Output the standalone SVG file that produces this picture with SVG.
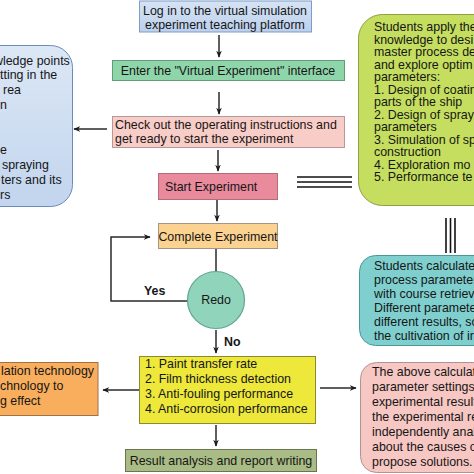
<svg xmlns="http://www.w3.org/2000/svg" width="474" height="474" viewBox="0 0 474 474">
<defs>
<linearGradient id="gBlue" x1="0" y1="0" x2="0" y2="1"><stop offset="0" stop-color="#d6e3f4"/><stop offset="1" stop-color="#bcd0ec"/></linearGradient>
<linearGradient id="gBlue2" x1="0" y1="0" x2="0" y2="1"><stop offset="0" stop-color="#dce7f5"/><stop offset="1" stop-color="#c2d5ee"/></linearGradient>
<marker id="ah" viewBox="0 0 10 10" refX="9" refY="5" markerWidth="7" markerHeight="7" orient="auto" markerUnits="userSpaceOnUse">
<path d="M0,1 L10,5 L0,9 L3,5 z" fill="#1a1a1a"/>
</marker>
<style>
text{font-family:"Liberation Sans",Arial,sans-serif;font-size:12.4px;fill:#161616}
.b{font-weight:bold}
.ln{stroke:#2a2a2a;stroke-width:1.5;fill:none}
.ar{stroke:#2a2a2a;stroke-width:1.5;fill:none;marker-end:url(#ah)}
.tl{stroke:#111;stroke-width:1.6}
</style>
</defs>
<rect width="474" height="474" fill="#ffffff"/>

<g id="connectors">
<line class="ar" x1="219" y1="35" x2="219" y2="57"/>
<line class="ar" x1="219" y1="92" x2="219" y2="114"/>
<line class="ar" x1="218" y1="150" x2="218" y2="171"/>
<line class="ar" x1="217" y1="200" x2="217" y2="221"/>
<line class="ln" x1="216" y1="249" x2="216" y2="272"/>
<polyline class="ar" points="188,301 111,301 111,237 150,237"/>
<line class="ar" x1="216" y1="330" x2="216" y2="353"/>
<line class="ar" x1="216" y1="425" x2="216" y2="446"/>
<line class="ar" x1="139" y1="390" x2="103" y2="390"/>
<line class="ar" x1="320" y1="388" x2="356" y2="388"/>
<line class="ar" x1="107" y1="129" x2="74" y2="129"/>
<line class="tl" x1="297" y1="177" x2="352" y2="177"/>
<line class="tl" x1="297" y1="182" x2="352" y2="182"/>
<line class="tl" x1="297" y1="187" x2="352" y2="187"/>
<line class="tl" x1="446" y1="218" x2="446" y2="253"/>
<line class="tl" x1="450.5" y1="218" x2="450.5" y2="253"/>
<line class="tl" x1="455" y1="218" x2="455" y2="253"/>
<text class="b" x="144" y="295">Yes</text>
<text class="b" x="224" y="346">No</text>
</g>

<g id="login">
<rect x="139.5" y="1" width="172" height="31" fill="url(#gBlue)" stroke="#7e9cc6"/>
<text x="225" y="15" text-anchor="middle">Log in to the virtual simulation</text>
<text x="225" y="29" text-anchor="middle">experiment teaching platform</text>
</g>

<g id="enter">
<rect x="112.5" y="60.5" width="232" height="20" fill="#8fd5aa" stroke="#5f9f78"/>
<text x="228" y="75" text-anchor="middle">Enter the "Virtual Experiment" interface</text>
</g>

<g id="check">
<rect x="112.5" y="116.5" width="232" height="31" fill="#f9cdc7" stroke="#b39a98"/>
<text x="115" y="129">Check out the operating instructions and</text>
<text x="115" y="143">get ready to start the experiment</text>
</g>

<g id="start">
<rect x="158.5" y="173.5" width="119" height="26" fill="#e98a9d" stroke="#b76a78"/>
<text x="165" y="191">Start Experiment</text>
</g>

<g id="complete">
<rect x="158.5" y="223.5" width="119" height="25" fill="#fcd291" stroke="#a49684"/>
<text x="218" y="240.5" text-anchor="middle">Complete Experiment</text>
</g>

<g id="redo">
<circle cx="216" cy="300" r="28.5" fill="#8fd4bb" stroke="#5fa593" stroke-width="1.2"/>
<text x="216" y="304" text-anchor="middle">Redo</text>
</g>

<g id="results">
<rect x="139.5" y="356.5" width="176" height="67" fill="#ede83a" stroke="#8c8a30"/>
<text x="145" y="368">1. Paint transfer rate</text>
<text x="145" y="383">2. Film thickness detection</text>
<text x="145" y="398">3. Anti-fouling performance</text>
<text x="145" y="413">4. Anti-corrosion performance</text>
</g>

<g id="report">
<rect x="125.5" y="449.5" width="191" height="22" fill="#a9bc85" stroke="#6b7452"/>
<text x="221" y="465" text-anchor="middle">Result analysis and report writing</text>
</g>

<g id="simulation">
<rect x="-10" y="362.5" width="108" height="53" fill="#f9ae5d" stroke="#a07244"/>
<text x="1" y="375">lation technology</text>
<text x="0" y="390">chnology to</text>
<text x="0" y="405">g effect</text>
</g>

<g id="knowledge">
<rect x="-30" y="45.5" width="102.5" height="161" rx="22" fill="url(#gBlue2)" stroke="#6b8bb9"/>
<text x="-6" y="65">wledge points</text>
<text x="0" y="79">tting in the</text>
<text x="3" y="94">rea</text>
<text x="0" y="109">n</text>
<text x="0" y="154">e</text>
<text x="2" y="169">spraying</text>
<text x="1" y="184">ters and its</text>
<text x="0" y="199">rs</text>
</g>

<g id="design">
<rect x="358.5" y="14.5" width="140" height="191" rx="24" fill="#c5de5f" stroke="#8aa043"/>
<text x="374" y="31">Students apply the</text>
<text x="374" y="43.5">knowledge to desi</text>
<text x="374" y="56">master process de</text>
<text x="374" y="68.5">and explore optim</text>
<text x="374" y="81">parameters:</text>
<text x="374" y="93.5">1. Design of coatin</text>
<text x="374" y="106">parts of the ship</text>
<text x="374" y="118.5">2. Design of spray</text>
<text x="374" y="131">parameters</text>
<text x="374" y="143.5">3. Simulation of sp</text>
<text x="374" y="156">construction</text>
<text x="374" y="168.5">4. Exploration mo</text>
<text x="374" y="181">5. Performance te</text>
</g>

<g id="calculate">
<rect x="359.5" y="255.5" width="140" height="90" rx="16" fill="#7fcfcf" stroke="#4b9898"/>
<text x="374" y="270">Students calculate</text>
<text x="374" y="284">process parameter</text>
<text x="374" y="298">with course retriev</text>
<text x="374" y="312">Different paramete</text>
<text x="374" y="326">different results, sc</text>
<text x="374" y="340">the cultivation of ir</text>
</g>

<g id="analysis">
<rect x="360.5" y="362.5" width="140" height="110" rx="16" fill="#f6c7c3" stroke="#b09494"/>
<text x="372" y="376">The above calculat</text>
<text x="372" y="391">parameter settings</text>
<text x="372" y="406">experimental result</text>
<text x="372" y="421">the experimental re</text>
<text x="372" y="436">independently anal</text>
<text x="372" y="451">about the causes o</text>
<text x="372" y="466">propose solutions.</text>
</g>
</svg>
